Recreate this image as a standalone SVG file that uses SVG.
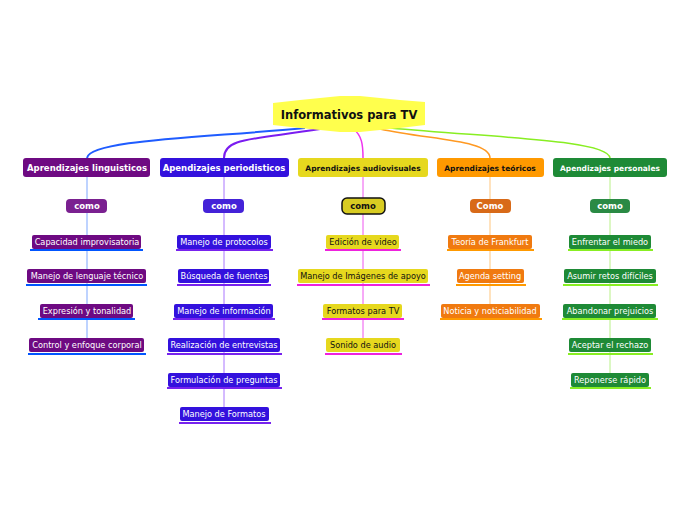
<svg xmlns="http://www.w3.org/2000/svg" width="697" height="520" viewBox="0 0 697 520">
<style>
text{font-family:"DejaVu Sans","Noto Sans",sans-serif;text-anchor:middle;dominant-baseline:central}
.l1{font-size:8.5px;font-weight:bold}
.lf{font-size:8.2px;fill:#fff}
.cm{font-size:8.5px;font-weight:bold;fill:#fff}
.c{fill:none}
</style>
<rect width="697" height="520" fill="#fff"/>
<g id="connectors" class="c">
<path d="M305,128 C200,138 90,140 87,158" stroke="#1f5cff" stroke-width="2"/>
<path d="M320,129 C250,140 224,138 224,158" stroke="#7a1cf0" stroke-width="2"/>
<path d="M353,129 C362,135 363,145 363,158" stroke="#ee33ee" stroke-width="1.5"/>
<path d="M380,129 C430,140 490,140 490,158" stroke="#ff9922" stroke-width="1.5"/>
<path d="M390,128 C500,138 608,140 610,158" stroke="#88ee22" stroke-width="1.5"/>
<path d="M87,177V345" stroke="#a8c4ff" stroke-width="1.5"/>
<path d="M224,177V414" stroke="#aa77ff" stroke-width="1"/>
<path d="M363,177V345" stroke="#ee55ee" stroke-width="1"/>
<path d="M490,177V311" stroke="#ffd8a8" stroke-width="1.5"/>
<path d="M610,177V380" stroke="#b8f088" stroke-width="1"/>
</g>
<g id="root"><path d="M273,103 L300,100 L340,96 L360,96 L400,100 L425,102 L425,125 L400,128 L360,132 L340,132 L300,128 L273,125 Z" fill="#ffff4d"/><text x="349" y="115" style="font-size:11.5px;font-weight:bold" fill="#111">Informativos para TV</text></g>
<g id="n1"><rect x="23" y="158" width="127" height="19" rx="3" fill="#6e0a82"/><text class="l1" x="87" y="168" fill="#fff">Aprendizajes linguisticos</text></g>
<g id="n2"><rect x="160" y="158" width="129" height="19" rx="3" fill="#3311dd"/><text class="l1" x="224" y="168" fill="#fff">Apendizajes periodisticos</text></g>
<g id="n3"><rect x="298" y="158" width="130" height="19" rx="3" fill="#e6d81e"/><text x="363" y="168" style="font-size:7.5px;font-weight:bold" fill="#111">Aprendizajes audiovisuales</text></g>
<g id="n4"><rect x="437" y="158" width="107" height="19" rx="3" fill="#ff9900"/><text x="490" y="168" style="font-size:7.5px;font-weight:bold" fill="#111">Aprendizajes teóricos</text></g>
<g id="n5"><rect x="553" y="158" width="114" height="19" rx="3" fill="#1e8a36"/><text x="610" y="168" style="font-size:7.5px;font-weight:bold" fill="#fff">Apendizajes personales</text></g>
<g id="como1"><rect x="66" y="199" width="41" height="14" rx="4" fill="#7a2090"/><text class="cm" x="87" y="206">como</text></g>
<g id="como2"><rect x="203" y="199" width="41" height="14" rx="4" fill="#4422d8"/><text class="cm" x="224" y="206">como</text></g>
<g id="como3"><rect x="342" y="198" width="43" height="16" rx="5" fill="#d8cc22" stroke="#111" stroke-width="1.5"/><text class="cm" x="363" y="206" fill="#111" style="fill:#111">como</text></g>
<g id="como4"><rect x="470" y="199" width="41" height="14" rx="4" fill="#d86a18"/><text class="cm" x="490" y="206">Como</text></g>
<g id="como5"><rect x="590" y="199" width="40" height="14" rx="4" fill="#2a8a44"/><text class="cm" x="610" y="206">como</text></g>
<g id="c1">
<rect x="32" y="235" width="109" height="14" rx="2" fill="#6e0a82"/><rect x="30" y="249" width="113" height="2" fill="#0055ff"/><text class="lf" x="87" y="242">Capacidad improvisatoria</text>
<rect x="27" y="269" width="119" height="14" rx="2" fill="#6e0a82"/><rect x="26" y="284" width="121" height="2" fill="#0055ff"/><text class="lf" x="87" y="276">Manejo de lenguaje técnico</text>
<rect x="40" y="304" width="93" height="14" rx="2" fill="#6e0a82"/><rect x="38" y="318" width="97" height="2" fill="#0055ff"/><text class="lf" x="87" y="311">Expresión y tonalidad</text>
<rect x="29" y="338" width="115" height="14" rx="2" fill="#6e0a82"/><rect x="28" y="353" width="118" height="2" fill="#0055ff"/><text class="lf" x="87" y="345">Control y enfoque corporal</text>
</g>
<g id="c2">
<rect x="177" y="235" width="94" height="14" rx="2" fill="#3311dd"/><rect x="176" y="249" width="97" height="2" fill="#7722ee"/><text class="lf" x="224" y="242">Manejo de protocolos</text>
<rect x="178" y="269" width="91" height="14" rx="2" fill="#3311dd"/><rect x="177" y="284" width="94" height="2" fill="#7722ee"/><text class="lf" x="224" y="276">Búsqueda de fuentes</text>
<rect x="174" y="304" width="99" height="14" rx="2" fill="#3311dd"/><rect x="173" y="318" width="102" height="2" fill="#7722ee"/><text class="lf" x="224" y="311">Manejo de información</text>
<rect x="168" y="338" width="112" height="14" rx="2" fill="#3311dd"/><rect x="167" y="353" width="115" height="2" fill="#7722ee"/><text class="lf" x="224" y="345">Realización de entrevistas</text>
<rect x="168" y="373" width="112" height="14" rx="2" fill="#3311dd"/><rect x="167" y="387" width="115" height="2" fill="#7722ee"/><text class="lf" x="224" y="380">Formulación de preguntas</text>
<rect x="180" y="407" width="89" height="14" rx="2" fill="#3311dd"/><rect x="179" y="422" width="92" height="2" fill="#7722ee"/><text class="lf" x="224" y="414">Manejo de Formatos</text>
</g>
<g id="c3">
<rect x="326" y="235" width="73" height="14" rx="2" fill="#e6d81e"/><rect x="325" y="249" width="76" height="2" fill="#ee22dd"/><text class="lf" x="363" y="242" style="fill:#111">Edición de video</text>
<rect x="298" y="269" width="130" height="14" rx="2" fill="#e6d81e"/><rect x="297" y="284" width="133" height="2" fill="#ee22dd"/><text class="lf" x="363" y="276" style="fill:#111">Manejo de Imágenes de apoyo</text>
<rect x="323" y="304" width="79" height="14" rx="2" fill="#e6d81e"/><rect x="322" y="318" width="82" height="2" fill="#ee22dd"/><text class="lf" x="363" y="311" style="fill:#111">Formatos para TV</text>
<rect x="326" y="338" width="74" height="14" rx="2" fill="#e6d81e"/><rect x="325" y="353" width="77" height="2" fill="#ee22dd"/><text class="lf" x="363" y="345" style="fill:#111">Sonido de audio</text>
</g>
<g id="c4">
<rect x="448" y="235" width="84" height="14" rx="2" fill="#f07a10"/><rect x="447" y="249" width="87" height="2" fill="#ff9900"/><text class="lf" x="490" y="242">Teoría de Frankfurt</text>
<rect x="457" y="269" width="67" height="14" rx="2" fill="#f07a10"/><rect x="456" y="284" width="70" height="2" fill="#ff9900"/><text class="lf" x="490" y="276">Agenda setting</text>
<rect x="441" y="304" width="99" height="14" rx="2" fill="#f07a10"/><rect x="440" y="318" width="102" height="2" fill="#ff9900"/><text class="lf" x="490" y="311">Noticia y noticiabilidad</text>
</g>
<g id="c5">
<rect x="569" y="235" width="82" height="14" rx="2" fill="#1e8a36"/><rect x="568" y="249" width="85" height="2" fill="#88ee22"/><text class="lf" x="610" y="242">Enfrentar el miedo</text>
<rect x="564" y="269" width="92" height="14" rx="2" fill="#1e8a36"/><rect x="563" y="284" width="95" height="2" fill="#88ee22"/><text class="lf" x="610" y="276">Asumir retos difíciles</text>
<rect x="563" y="304" width="93" height="14" rx="2" fill="#1e8a36"/><rect x="562" y="318" width="96" height="2" fill="#88ee22"/><text class="lf" x="610" y="311">Abandonar prejuicios</text>
<rect x="569" y="338" width="82" height="14" rx="2" fill="#1e8a36"/><rect x="568" y="353" width="85" height="2" fill="#88ee22"/><text class="lf" x="610" y="345">Aceptar el rechazo</text>
<rect x="571" y="373" width="78" height="14" rx="2" fill="#1e8a36"/><rect x="570" y="387" width="81" height="2" fill="#88ee22"/><text class="lf" x="610" y="380">Reponerse rápido</text>
</g>
</svg>
